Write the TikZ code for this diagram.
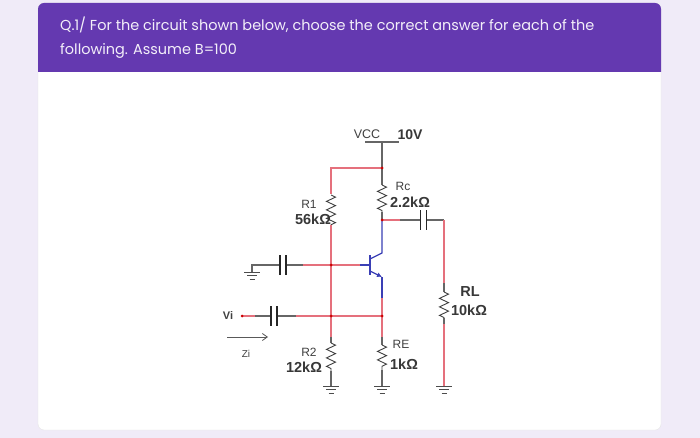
\documentclass[tikz,border=0pt]{standalone}
\usepackage{xcolor}
\usepackage{fontspec}
\setmainfont{Liberation Sans}
\newfontfamily\headfont{Poppins}
\usetikzlibrary{positioning,calc,decorations.pathmorphing,arrows.meta}
\definecolor{pagebg}{HTML}{F0EBF8}
\definecolor{headbg}{HTML}{6439B0}
\definecolor{wirered}{HTML}{E5707C}
\definecolor{wiregray}{HTML}{666666}
\definecolor{wireblue}{HTML}{3A3FB5}
\tikzset{
  redwire/.style={draw=wirered, line width=1.2pt},
  graywire/.style={draw=wiregray, line width=1.2pt},
  bluewire/.style={draw=wireblue, line width=1.2pt},
  resbox/.style={draw=black!75, line width=0.9pt, decorate, decoration={zigzag, segment length=8.5pt, amplitude=4.5pt}},
  plate/.style={draw=black!85, line width=1.3pt},
  partlabel/.style={font=\fontsize{12}{14}\selectfont, text=black!75, inner sep=0pt},
  partvalue/.style={font=\fontsize{14.5}{16}\selectfont\bfseries, text=black!78, inner sep=0pt},
  headtext/.style={font=\headfont\fontsize{14.45}{16}\selectfont, text=white!92!headbg, inner sep=0pt, anchor=base west},
  dotmark/.style={circle, fill=#1, inner sep=0pt, minimum size=3pt}
}
\begin{document}
\begin{tikzpicture}[x=1pt, y=-1pt]
  \useasboundingbox (0,0) rectangle (700,438);
  \fill[pagebg] (0,0) rectangle (700,438);
  \draw[draw=black!10, fill=white, rounded corners=6pt] (38,3) rectangle (661,430);
  \fill[headbg] (38,72) [rounded corners=6pt] -- (38,3) -- (661,3) [sharp corners] -- (661,72) -- cycle;
  \node (line1) [headtext] at (60,31) {Q.1/ For the circuit shown below, choose the correct answer for each of the};
  \node (line2) [headtext] at (60,54.500) {following. Assume B=100};

  % top rail and junctions
  \coordinate (vccl) at (365,142);
  \coordinate (vccr) at (399,142);
  \coordinate (vcc) at (382,142);
  \coordinate (topj) at (382,168);
  \coordinate (topl) at (331,168);
  \coordinate (r1a) at (331,195);
  \coordinate (r1b) at (331,225);
  \coordinate (r1c) at (331,194);
  \coordinate (basej) at (331,265);
  \coordinate (inj) at (331,316);
  \coordinate (r2t) at (331,337);
  \coordinate (r2a) at (331,343);
  \coordinate (r2b) at (331,371);
  \coordinate (gndb) at (331,386);
  % collector side
  \coordinate (rca) at (382,185);
  \coordinate (rcb) at (382,212);
  \coordinate (colj) at (382,220);
  \coordinate (colr) at (400,220);
  \node (c3) at (423.500,220) [inner sep=0pt] {};
  \coordinate (cor) at (444,220);
  \coordinate (rlt) at (444,283);
  \coordinate (rla) at (444,292);
  \coordinate (rlb) at (444,318);
  \coordinate (rlc) at (444,324);
  \coordinate (gndl) at (444,386);
  % transistor
  \coordinate (base) at (370,265);
  \coordinate (basel) at (360,265);
  \coordinate (bart) at (370,255);
  \coordinate (barb) at (370,275);
  \coordinate (cin) at (370,259);
  \coordinate (cup) at (382,253);
  \coordinate (ein) at (370,271);
  \coordinate (edn) at (382,277);
  \coordinate (emid) at (382,298);
  \coordinate (emj) at (382,316);
  \coordinate (ret) at (382,337);
  \coordinate (rea) at (382,345);
  \coordinate (reb) at (382,370);
  \coordinate (gnde) at (382,386);
  % bypass and input capacitors
  \node (c1) at (283,265) [inner sep=0pt] {};
  \coordinate (c1l) at (252,265);
  \coordinate (c1g) at (252,272);
  \coordinate (c1r) at (303,265);
  \node (c2) at (274,316) [inner sep=0pt] {};
  \coordinate (vin) at (242,316);
  \coordinate (c2l) at (255,316);
  \coordinate (c2r) at (296,316);
  \coordinate (arra) at (227,337);
  \coordinate (arrb) at (268,337);

  \draw[graywire] (vccl) -- (vccr);
  \draw[graywire] (vcc) -- (topj);
  \draw[redwire] (r1c) -- (topl) -- (topj);
  \draw[graywire] (topj) -- (rca);
  \draw[resbox] (rca) -- (rcb);
  \draw[graywire] (rcb) -- (colj);
  \draw[redwire] (colj) -- (colr);
  \draw[graywire] (colr) -- (c3) -- (cor);
  \draw[redwire] (cor) -- (rlt);
  \draw[graywire] (rlt) -- (rla);
  \draw[resbox] (rla) -- (rlb);
  \draw[graywire] (rlb) -- (rlc);
  \draw[redwire] (rlc) -- (gndl);

  \draw[resbox] (r1a) -- (r1b);
  \draw[redwire] (r1b) -- (r2t);
  \draw[graywire] (r2t) -- (r2a);
  \draw[resbox] (r2a) -- (r2b);
  \draw[graywire] (r2b) -- (gndb);

  \draw[redwire] (c1r) -- (basel);
  \draw[bluewire] (basel) -- (base);
  \draw[bluewire, line width=1.4pt] (bart) -- (barb);
  \draw[bluewire] (colj) -- (cup) -- (cin);
  \draw[bluewire, -{Latex[length=5pt,width=5pt]}] (ein) -- (edn);
  \draw[bluewire] (edn) -- (emid);
  \draw[redwire] (emid) -- (ret);
  \draw[graywire] (ret) -- (rea);
  \draw[resbox] (rea) -- (reb);
  \draw[graywire] (reb) -- (gnde);

  \draw[graywire] (c1g) -- (c1l) -- (c1);
  \draw[graywire] (c1) -- (c1r);
  \draw[redwire] (vin) -- (c2l);
  \draw[graywire] (c2l) -- (c2) -- (c2r);
  \draw[redwire] (c2r) -- (emj);
  \draw[draw=black!65, line width=0.8pt, -{Straight Barb[length=5pt,width=7pt]}] (arra) -- (arrb);

  % capacitor plates
  \foreach \cname/\half in {c1/10, c2/10, c3/10} {
    \draw[plate, fill=none] ($(\cname)+(-3,-\half)$) -- ($(\cname)+(-3,\half)$);
    \fill[white] ($(\cname)+(-2.400,-\half)$) rectangle ($(\cname)+(2.400,\half)$);
    \draw[plate] ($(\cname)+(3,-\half)$) -- ($(\cname)+(3,\half)$);
  }
  % grounds
  \foreach \gname in {c1g, gndb, gnde, gndl} {
    \draw[draw=black!70, line width=0.8pt] ($(\gname)+(-8,0)$) -- ($(\gname)+(8,0)$);
    \draw[draw=black!70, line width=0.8pt] ($(\gname)+(-5,3.500)$) -- ($(\gname)+(5,3.500)$);
    \draw[draw=black!70, line width=0.8pt] ($(\gname)+(-2.500,7)$) -- ($(\gname)+(2.500,7)$);
  }
  % junction dots
  \foreach \jname in {topj, basej, inj, colj, emj, vin} {
    \node (dot\jname) [dotmark=red!80!black] at (\jname) {};
  }

  \node (vcclab) [partlabel, font=\fontsize{12.500}{14}\selectfont] at (367,134) {VCC};
  \node (vccval) [partvalue, font=\fontsize{14}{16}\selectfont\bfseries] at (410,135) {10V};
  \node (r1lab) [partlabel] at (309,204) {R1};
  \node (r1val) [partvalue] at (313,219) {56kΩ};
  \node (rclab) [partlabel] at (403,186) {Rc};
  \node (rcval) [partvalue] at (410,202) {2.2kΩ};
  \node (vilab) [partlabel, font=\fontsize{11}{13}\selectfont\bfseries] at (228,316) {Vi};
  \node (zilab) [partlabel, font=\fontsize{10}{12}\selectfont] at (246,354) {Zi};
  \node (r2lab) [partlabel] at (309,352) {R2};
  \node (r2val) [partvalue] at (304,367) {12kΩ};
  \node (relab) [partlabel] at (401,344) {RE};
  \node (reval) [partvalue] at (404,364) {1kΩ};
  \node (rllab) [partvalue] at (470,292) {RL};
  \node (rlval) [partvalue] at (469,310) {10kΩ};
\end{tikzpicture}
\end{document}
